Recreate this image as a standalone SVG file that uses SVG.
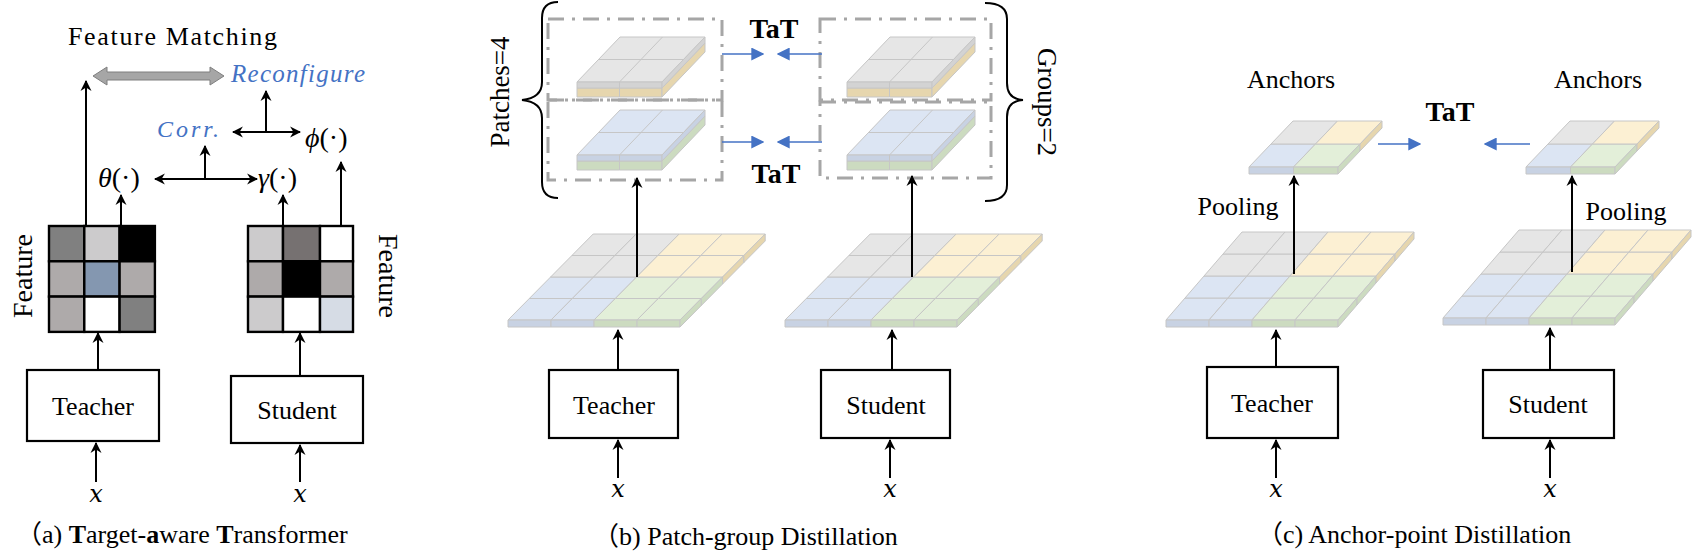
<svg xmlns="http://www.w3.org/2000/svg" width="1703" height="553" viewBox="0 0 1703 553">
<style>
text{font-family:"Liberation Serif","Times New Roman",serif;fill:#000}
.cjk{font-family:"Noto Sans CJK SC",sans-serif}
.t{font-size:26px}
.b{font-weight:bold;font-size:28px}
.it{font-style:italic}
.mx{font-family:"DejaVu Serif",serif;font-style:italic;font-size:24px}
.blue{fill:#4472c4}
.ln{stroke:#000;stroke-width:2;fill:none}
.bl{stroke:#4472c4;stroke-width:1.6;fill:none}
.box{fill:#fff;stroke:#000;stroke-width:2.2}
.dd{fill:none;stroke:#a6a6a6;stroke-width:3;stroke-dasharray:16 8 3 8}
.c{stroke:#c6c6c6;stroke-width:1;vector-effect:non-scaling-stroke}
.g{fill:#e6e6e6}.gs{fill:#d3d3d3}
.y{fill:#fcf0d3}.ys{fill:#e6d6ae}
.bb{fill:#dce5f3}.bs{fill:#c8d2e3}
.gr{fill:#e3efd9}.grs{fill:#ccdbc0}
.cell{stroke:#000;stroke-width:2.4}
</style>
<defs>
<marker id="ah" viewBox="0 0 10 10" refX="9" refY="5" markerWidth="11" markerHeight="12" orient="auto-start-reverse" markerUnits="userSpaceOnUse"><path d="M0,0 L10,5 L0,10 L3,5 z" fill="#000"/></marker>
<marker id="bh" viewBox="0 0 10 10" refX="9" refY="5" markerWidth="13" markerHeight="13" orient="auto-start-reverse" markerUnits="userSpaceOnUse"><path d="M0,0 L10,5 L0,10 z" fill="#4472c4"/></marker>
<g id="big">
<g transform="matrix(43,0,21.3,-21.5,0,0)">
<rect class="c bb" x="0" y="0" width="1" height="1"/><rect class="c bb" x="1" y="0" width="1" height="1"/>
<rect class="c gr" x="2" y="0" width="1" height="1"/><rect class="c gr" x="3" y="0" width="1" height="1"/>
<rect class="c bb" x="0" y="1" width="1" height="1"/><rect class="c bb" x="1" y="1" width="1" height="1"/>
<rect class="c gr" x="2" y="1" width="1" height="1"/><rect class="c gr" x="3" y="1" width="1" height="1"/>
<rect class="c g" x="0" y="2" width="1" height="1"/><rect class="c g" x="1" y="2" width="1" height="1"/>
<rect class="c y" x="2" y="2" width="1" height="1"/><rect class="c y" x="3" y="2" width="1" height="1"/>
<rect class="c g" x="0" y="3" width="1" height="1"/><rect class="c g" x="1" y="3" width="1" height="1"/>
<rect class="c y" x="2" y="3" width="1" height="1"/><rect class="c y" x="3" y="3" width="1" height="1"/>
</g>
<rect class="c bs" x="0" y="0" width="43" height="7"/><rect class="c bs" x="43" y="0" width="43" height="7"/>
<rect class="c grs" x="86" y="0" width="43" height="7"/><rect class="c grs" x="129" y="0" width="43" height="7"/>
<path class="c grs" d="M172,0 l21.3,-21.5 v7 l-21.3,21.5z"/><path class="c grs" d="M193.3,-21.5 l21.3,-21.5 v7 l-21.3,21.5z"/>
<path class="c ys" d="M214.6,-43 l21.3,-21.5 v7 l-21.3,21.5z"/><path class="c ys" d="M235.9,-64.5 l21.3,-21.5 v7 l-21.3,21.5z"/>
</g>
<g id="bigc">
<g transform="matrix(43,0,19,-22,0,0)">
<rect class="c bb" x="0" y="0" width="1" height="1"/><rect class="c bb" x="1" y="0" width="1" height="1"/>
<rect class="c gr" x="2" y="0" width="1" height="1"/><rect class="c gr" x="3" y="0" width="1" height="1"/>
<rect class="c bb" x="0" y="1" width="1" height="1"/><rect class="c bb" x="1" y="1" width="1" height="1"/>
<rect class="c gr" x="2" y="1" width="1" height="1"/><rect class="c gr" x="3" y="1" width="1" height="1"/>
<rect class="c g" x="0" y="2" width="1" height="1"/><rect class="c g" x="1" y="2" width="1" height="1"/>
<rect class="c y" x="2" y="2" width="1" height="1"/><rect class="c y" x="3" y="2" width="1" height="1"/>
<rect class="c g" x="0" y="3" width="1" height="1"/><rect class="c g" x="1" y="3" width="1" height="1"/>
<rect class="c y" x="2" y="3" width="1" height="1"/><rect class="c y" x="3" y="3" width="1" height="1"/>
</g>
<rect class="c bs" x="0" y="0" width="43" height="7"/><rect class="c bs" x="43" y="0" width="43" height="7"/>
<rect class="c grs" x="86" y="0" width="43" height="7"/><rect class="c grs" x="129" y="0" width="43" height="7"/>
<path class="c grs" d="M172,0 l19,-22 v7 l-19,22z"/><path class="c grs" d="M191,-22 l19,-22 v7 l-19,22z"/>
<path class="c ys" d="M210,-44 l19,-22 v7 l-19,22z"/><path class="c ys" d="M229,-66 l19,-22 v7 l-19,22z"/>
</g>
<g id="anc">
<g transform="matrix(44.5,0,22,-23,0,0)">
<rect class="c bb" x="0" y="0" width="1" height="1"/><rect class="c gr" x="1" y="0" width="1" height="1"/>
<rect class="c g" x="0" y="1" width="1" height="1"/><rect class="c y" x="1" y="1" width="1" height="1"/>
</g>
<rect class="c bs" x="0" y="0" width="44.5" height="7"/><rect class="c grs" x="44.5" y="0" width="44.5" height="7"/>
<path class="c grs" d="M89,0 l22,-23 v7 l-22,23z"/><path class="c ys" d="M111,-23 l22,-23 v7 l-22,23z"/>
</g>
<g id="slabGY">
<rect class="c ys" x="0" y="6" width="42.5" height="9"/><rect class="c ys" x="42.5" y="6" width="42.5" height="9"/>
<path class="c ys" d="M85,6 l43,-45 v9 l-43,45z"/>
<g transform="matrix(42.5,0,21.5,-22.5,0,0)">
<rect class="c g" x="0" y="0" width="2" height="2"/>
<path class="c" d="M1,0 V2 M0,1 H2" fill="none"/>
</g>
<rect class="c gs" x="0" y="0" width="42.5" height="6"/><rect class="c gs" x="42.5" y="0" width="42.5" height="6"/>
<path class="c gs" d="M85,0 l43,-45 v6 l-43,45z"/>
</g>
<g id="slabBG">
<rect class="c grs" x="0" y="6" width="42.5" height="9"/><rect class="c grs" x="42.5" y="6" width="42.5" height="9"/>
<path class="c grs" d="M85,6 l43,-45 v9 l-43,45z"/>
<g transform="matrix(42.5,0,21.5,-22.5,0,0)">
<rect class="c bb" x="0" y="0" width="2" height="2"/>
<path class="c" d="M1,0 V2 M0,1 H2" fill="none"/>
</g>
<rect class="c bs" x="0" y="0" width="42.5" height="6"/><rect class="c bs" x="42.5" y="0" width="42.5" height="6"/>
<path class="c bs" d="M85,0 l43,-45 v6 l-43,45z"/>
</g>
</defs>

<!-- ===== Panel (a) ===== -->
<g id="a-labels">
<text class="t" x="68" y="45" textLength="209">Feature Matching</text>
<text class="it blue" x="231" y="82" style="font-size:25px" textLength="134">Reconfigure</text>
<text class="it blue" x="157" y="137" style="font-size:24px" textLength="62">Corr.</text>
<text x="305" y="147" style="font-size:28px"><tspan class="it">ϕ</tspan>(·)</text>
<text x="98" y="187" style="font-size:28px"><tspan class="it">θ</tspan>(·)</text>
<text x="258" y="187" style="font-size:28px"><tspan class="it">γ</tspan>(·)</text>
<text class="t" transform="translate(32,276) rotate(-90)" text-anchor="middle" style="font-size:28px">Feature</text>
<text class="t" transform="translate(379,276) rotate(90)" text-anchor="middle" style="font-size:28px">Feature</text>
</g>
<g id="a-match-arrow"><path d="M93,76 l14,-9 v5 h103 v-5 l14,9 l-14,9 v-5 h-103 v5z" fill="#a6a6a6" stroke="#7f7f7f" stroke-width="1"/></g>
<g id="a-teacher-feature">
<rect class="cell" x="49" y="226" width="35.3" height="35.3" fill="#808080"/>
<rect class="cell" x="84.3" y="226" width="35.3" height="35.3" fill="#cccbcc"/>
<rect class="cell" x="119.6" y="226" width="35.3" height="35.3" fill="#000"/>
<rect class="cell" x="49" y="261.3" width="35.3" height="35.3" fill="#aeaaaa"/>
<rect class="cell" x="84.3" y="261.3" width="35.3" height="35.3" fill="#8497b0"/>
<rect class="cell" x="119.6" y="261.3" width="35.3" height="35.3" fill="#aeaaaa"/>
<rect class="cell" x="49" y="296.6" width="35.3" height="35.3" fill="#aeaaaa"/>
<rect class="cell" x="84.3" y="296.6" width="35.3" height="35.3" fill="#fff"/>
<rect class="cell" x="119.6" y="296.6" width="35.3" height="35.3" fill="#808080"/>
</g>
<g id="a-student-feature">
<rect class="cell" x="248" y="226" width="35" height="35.3" fill="#cccbcc"/>
<rect class="cell" x="283" y="226" width="37" height="35.3" fill="#767171"/>
<rect class="cell" x="320" y="226" width="33" height="35.3" fill="#fff"/>
<rect class="cell" x="248" y="261.3" width="35" height="35.3" fill="#aeaaaa"/>
<rect class="cell" x="283" y="261.3" width="37" height="35.3" fill="#000"/>
<rect class="cell" x="320" y="261.3" width="33" height="35.3" fill="#aeaaaa"/>
<rect class="cell" x="248" y="296.6" width="35" height="35.3" fill="#cccbcc"/>
<rect class="cell" x="283" y="296.6" width="37" height="35.3" fill="#fff"/>
<rect class="cell" x="320" y="296.6" width="33" height="35.3" fill="#d6dce5"/>
</g>
<g id="a-teacher"><rect class="box" x="27" y="370" width="132" height="71"/><text class="t" x="93" y="415" text-anchor="middle">Teacher</text></g>
<g id="a-student"><rect class="box" x="231" y="376" width="132" height="67"/><text class="t" x="297" y="419" text-anchor="middle">Student</text></g>
<g id="a-x"><text class="mx" x="96" y="502" text-anchor="middle">x</text><text class="mx" x="300" y="502" text-anchor="middle">x</text></g>
<g id="a-connectors">
<path class="ln" marker-end="url(#ah)" d="M86,226 V81"/>
<path class="ln" marker-end="url(#ah)" d="M121,226 V195"/>
<path class="ln" marker-end="url(#ah)" d="M283,226 V195"/>
<path class="ln" marker-end="url(#ah)" d="M341,226 V162"/>
<path class="ln" marker-start="url(#ah)" marker-end="url(#ah)" d="M155,179 H257"/>
<path class="ln" marker-end="url(#ah)" d="M205,179 V146"/>
<path class="ln" marker-start="url(#ah)" marker-end="url(#ah)" d="M233,132 H300"/>
<path class="ln" marker-end="url(#ah)" d="M266,132 V91"/>
<path class="ln" marker-end="url(#ah)" d="M98,370 V333"/>
<path class="ln" marker-end="url(#ah)" d="M300,376 V333"/>
<path class="ln" marker-end="url(#ah)" d="M96,482 V443"/>
<path class="ln" marker-end="url(#ah)" d="M300,482 V445"/>
</g>
<text class="t" x="16" y="543"><tspan class="cjk">（</tspan>a) <tspan font-weight="bold">T</tspan>arget-<tspan font-weight="bold">a</tspan>ware  <tspan font-weight="bold">T</tspan>ransformer</text>

<!-- ===== Panel (b) ===== -->
<g id="b-braces">
<path class="ln" stroke-width="1.8" d="M558,2 q-16,0 -16,16 v64 q0,16 -20,18 q20,2 20,18 v64 q0,16 16,16"/>
<path class="ln" stroke-width="1.8" d="M985,3 q22,0 22,16 v64 q0,16 16,17 q-16,1 -16,17 v68 q0,16 -22,16"/>
<text class="t" transform="translate(509,92) rotate(-90)" text-anchor="middle" style="font-size:27px">Patches=4</text>
<text class="t" transform="translate(1038,102) rotate(90)" text-anchor="middle" style="font-size:27px">Groups=2</text>
</g>
<g id="b-group-boxes">
<rect class="dd" x="548" y="19" width="174" height="81"/>
<rect class="dd" x="548" y="100" width="174" height="80"/>
<rect class="dd" x="820" y="19" width="171" height="81"/>
<rect class="dd" x="820" y="102" width="171" height="76"/>
</g>
<g id="b-teacher-patches"><use href="#slabGY" x="577" y="82"/><use href="#slabBG" x="577" y="155"/></g>
<g id="b-student-patches"><use href="#slabGY" x="847" y="82"/><use href="#slabBG" x="847" y="155"/></g>
<g id="b-tat"><text class="b" x="774" y="38" text-anchor="middle">TaT</text><text class="b" x="776" y="183" text-anchor="middle">TaT</text></g>
<g id="b-teacher-grid"><use href="#big" x="508" y="320"/></g>
<g id="b-student-grid"><use href="#big" x="785" y="320"/></g>
<g id="b-teacher"><rect class="box" x="549" y="370" width="129" height="68"/><text class="t" x="614" y="414" text-anchor="middle">Teacher</text></g>
<g id="b-student"><rect class="box" x="821" y="370" width="129" height="68"/><text class="t" x="886" y="414" text-anchor="middle">Student</text></g>
<g id="b-x"><text class="mx" x="618" y="497" text-anchor="middle">x</text><text class="mx" x="890" y="497" text-anchor="middle">x</text></g>
<g id="b-connectors">
<path class="bl" marker-end="url(#bh)" d="M722,54 H763"/>
<path class="bl" marker-end="url(#bh)" d="M822,54 H778"/>
<path class="bl" marker-end="url(#bh)" d="M722,142 H763"/>
<path class="bl" marker-end="url(#bh)" d="M822,142 H778"/>
<path class="ln" marker-end="url(#ah)" d="M637,277 V178"/>
<path class="ln" marker-end="url(#ah)" d="M912,277 V176"/>
<path class="ln" marker-end="url(#ah)" d="M618,370 V330"/>
<path class="ln" marker-end="url(#ah)" d="M892,370 V330"/>
<path class="ln" marker-end="url(#ah)" d="M618,478 V440"/>
<path class="ln" marker-end="url(#ah)" d="M890,478 V440"/>
</g>
<text class="t" x="593" y="545"><tspan class="cjk">（</tspan>b) Patch-group Distillation</text>

<!-- ===== Panel (c) ===== -->
<g id="c-labels">
<text class="t" x="1291" y="88" text-anchor="middle">Anchors</text>
<text class="t" x="1598" y="88" text-anchor="middle">Anchors</text>
<text class="b" x="1450" y="121" text-anchor="middle">TaT</text>
<text class="t" x="1238" y="215" text-anchor="middle">Pooling</text>
<text class="t" x="1626" y="220" text-anchor="middle">Pooling</text>
</g>
<g id="c-teacher-anchors"><use href="#anc" x="1249" y="167"/></g>
<g id="c-student-anchors"><use href="#anc" x="1526" y="167"/></g>
<g id="c-teacher-grid"><use href="#bigc" x="1166" y="320"/></g>
<g id="c-student-grid"><use href="#bigc" x="1443" y="318"/></g>
<g id="c-teacher"><rect class="box" x="1207" y="367" width="131" height="71"/><text class="t" x="1272" y="412" text-anchor="middle">Teacher</text></g>
<g id="c-student"><rect class="box" x="1483" y="370" width="131" height="68"/><text class="t" x="1548" y="413" text-anchor="middle">Student</text></g>
<g id="c-x"><text class="mx" x="1276" y="497" text-anchor="middle">x</text><text class="mx" x="1550" y="497" text-anchor="middle">x</text></g>
<g id="c-connectors">
<path class="bl" marker-end="url(#bh)" d="M1378,144 H1420"/>
<path class="bl" marker-end="url(#bh)" d="M1530,144 H1485"/>
<path class="ln" marker-end="url(#ah)" d="M1294,274 V176"/>
<path class="ln" marker-end="url(#ah)" d="M1572,272 V176"/>
<path class="ln" marker-end="url(#ah)" d="M1276,367 V330"/>
<path class="ln" marker-end="url(#ah)" d="M1550,370 V328"/>
<path class="ln" marker-end="url(#ah)" d="M1276,478 V440"/>
<path class="ln" marker-end="url(#ah)" d="M1550,478 V440"/>
</g>
<text class="t" x="1257" y="543"><tspan class="cjk">（</tspan>c) Anchor-point Distillation</text>
</svg>
